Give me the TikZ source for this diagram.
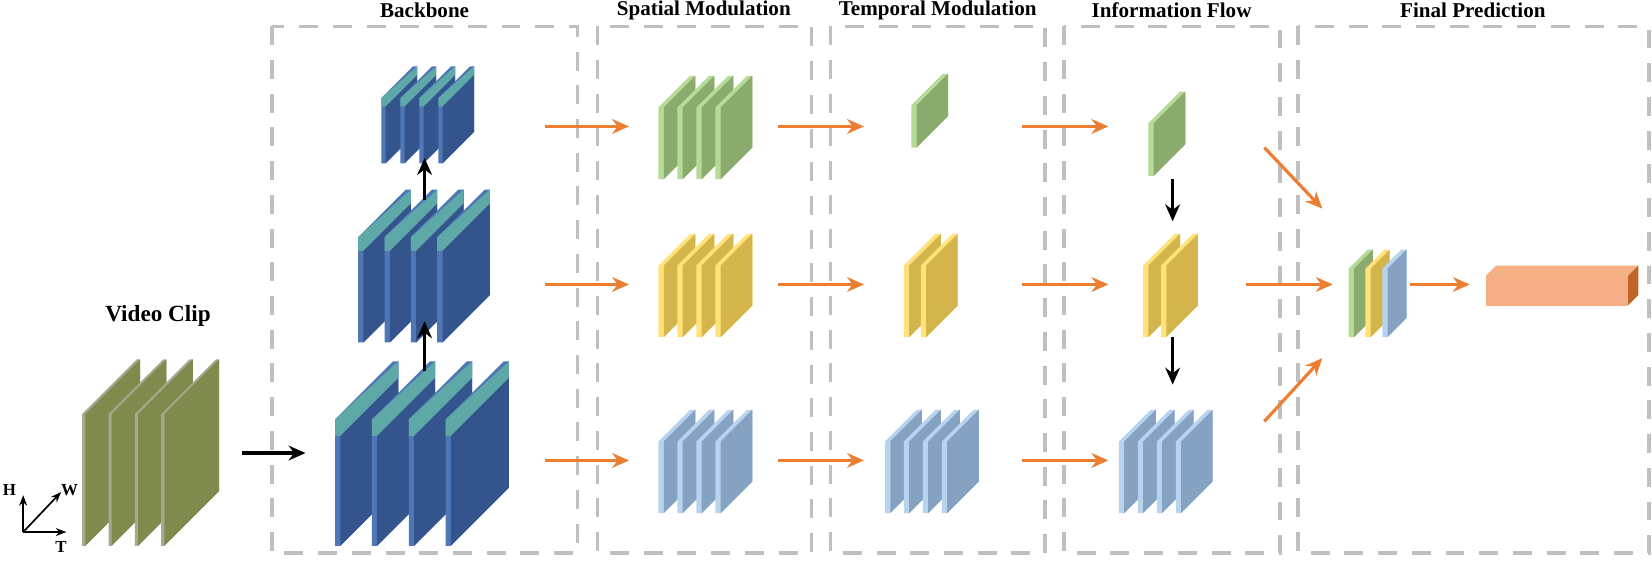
\documentclass[tikz,border=0pt]{standalone}
\usepackage{fontspec}
\setmainfont{Liberation Serif}
\usetikzlibrary{arrows.meta}
\definecolor{gF}{HTML}{8BAA6E}\definecolor{gS}{HTML}{B5DB96}
\definecolor{yF}{HTML}{D3B54C}\definecolor{yS}{HTML}{FFE27A}
\definecolor{bF}{HTML}{86A2C3}\definecolor{bS}{HTML}{B8D3EE}
\definecolor{kF}{HTML}{34548E}\definecolor{kS}{HTML}{4F77B5}
\definecolor{kT}{HTML}{5FA8A8}
\definecolor{vF}{HTML}{7E8B4C}\definecolor{vS}{HTML}{A8A890}
\definecolor{org}{HTML}{ED7D31}
% x y h d t front side
\newcommand\slab[7]{%
 \fill[#7] (#1,#2)--++(#5,0)--++(#4,-#4)--++(0,-#3)--++(-#5,0)--++(-#4,#4)--cycle;
 \fill[#6] (#1+#5,#2)--++(#4,-#4)--++(0,-#3)--++(-#4,#4)--cycle;}
\newcommand\kslab[5]{%
 \slab{#1}{#2}{#3}{#4}{#5}{kF}{kS}
 \fill[kT] (#1,#2-#3)--++(#5+#4,-#4)--++(0,0.13*#3)--++(-#4,#4)--++(-#5,0)--cycle;}
\begin{document}
\begin{tikzpicture}[x=0.5pt,y=-0.5pt,
 box/.style={draw=black!25,line width=1.6pt,dash pattern=on 9pt off 7pt},
 oa/.style={draw=org,line width=1.5pt,-{Stealth[length=8pt,width=7pt]}},
 ka/.style={draw=black,line width=1.6pt,-{Stealth[length=8pt,width=7pt]}},
 ttl/.style={font=\bfseries\fontsize{10}{12}\selectfont}]
\useasboundingbox (0,0) rectangle (1568,532);
% boxes
\draw[box] (258,25) rectangle (548,525);
\draw[box] (567,25) rectangle (770,525);
\draw[box] (788,25) rectangle (992,525);
\draw[box] (1010,25) rectangle (1215,525);
\draw[box] (1232,25) rectangle (1565,525);
\node[ttl] (t1) at (403,10) {Backbone};
\node[ttl] (t2) at (668,10) {Spatial Modulation};
\node[ttl] (t3) at (890,10) {Temporal Modulation};
\node[ttl] (t4) at (1112,10) {Information Flow};
\node[ttl] (t5) at (1398,10) {Final Prediction};
\node[ttl,font=\bfseries\fontsize{11}{13}\selectfont] (vc) at (150,300) {Video Clip};
% video
\foreach \x in {78,103,128,153} \slab{\x}{518}{125}{52}{3}{vF}{vS};
% backbone
\foreach \x in {318,353,388,423} \kslab{\x}{518}{120}{55}{5};
\foreach \x in {340,365,390,415} \kslab{\x}{325}{100}{45}{5};
\foreach \x in {362,380,398,416} \kslab{\x}{155}{62}{30}{4};
% spatial
\foreach \x in {625,643,661,679} {\slab{\x}{170}{68}{30}{5}{gF}{gS}
 \slab{\x}{320}{68}{30}{5}{yF}{yS} \slab{\x}{487}{68}{30}{5}{bF}{bS}}
% temporal
\slab{865}{140}{40}{30}{5}{gF}{gS}
\foreach \x in {858,874} \slab{\x}{320}{68}{30}{5}{yF}{yS};
\foreach \x in {840,858,876,894} \slab{\x}{487}{68}{30}{5}{bF}{bS};
% info flow
\slab{1090}{167}{50}{30}{5}{gF}{gS}
\foreach \x in {1085,1102} \slab{\x}{320}{68}{30}{5}{yF}{yS};
\foreach \x in {1062,1080,1098,1116} \slab{\x}{487}{68}{30}{5}{bF}{bS};
% final
\slab{1280}{320}{65}{18}{5}{gF}{gS}
\slab{1296}{320}{65}{18}{5}{yF}{yS}
\slab{1312}{320}{65}{18}{5}{bF}{bS}
\fill[org!60] (1410,262)--(1420,252)--(1555,252)--(1545,262)--cycle;
\fill[org!80!black] (1545,262)--(1555,252)--(1555,280)--(1545,290)--cycle;
\fill[org!55!white!95!red] (1410,262) rectangle (1545,290);
% orange arrows
\foreach \y in {120,270,437} {\draw[oa] (517,\y)--(597,\y); \draw[oa] (738,\y)--(820,\y); \draw[oa] (970,\y)--(1052,\y);}
\draw[oa] (1200,140)--(1255,198);
\draw[oa] (1183,270)--(1265,270);
\draw[oa] (1200,400)--(1255,340);
\draw[oa] (1338,270)--(1395,270);
% black arrows
\draw[ka] (230,430)--(290,430);
\draw[ka] (403,190)--(403,150);
\draw[ka] (403,352)--(403,305);
\draw[ka] (1113,170)--(1113,210);
\draw[ka] (1113,320)--(1113,365);
% axes
\coordinate (o) at (22,505);
\draw[black,line width=0.8pt,-{Stealth[length=5pt]}] (o)--(22,470);
\draw[black,line width=0.8pt,-{Stealth[length=5pt]}] (o)--(58,467);
\draw[black,line width=0.8pt,-{Stealth[length=5pt]}] (o)--(63,505);
\node[ttl,font=\bfseries\fontsize{8}{9}\selectfont] (h) at (9,465) {H};
\node[ttl,font=\bfseries\fontsize{8}{9}\selectfont] (w) at (66,465) {W};
\node[ttl,font=\bfseries\fontsize{8}{9}\selectfont] (t) at (58,519) {T};
\end{tikzpicture}
\end{document}
